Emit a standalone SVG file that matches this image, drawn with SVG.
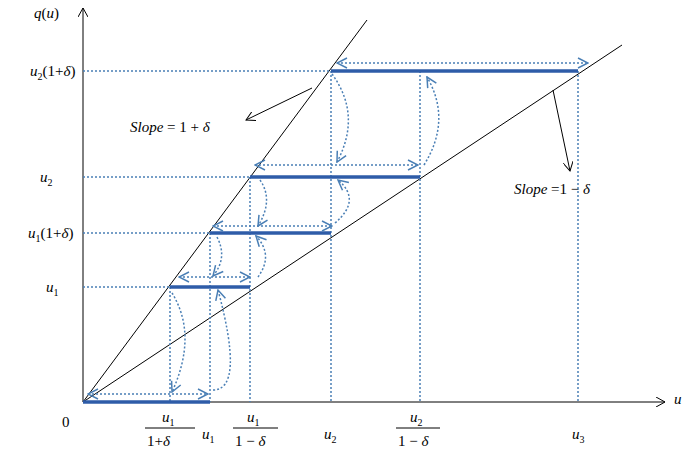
<svg xmlns="http://www.w3.org/2000/svg" width="685" height="457" viewBox="0 0 685 457">
<defs>
<style>
.ax{stroke:#000;stroke-width:1;fill:none}
.dot{stroke:#4a7fb5;stroke-width:1.5;stroke-dasharray:2 2;fill:none}
.bar{stroke:#2e5ca8;stroke-width:3.5}
.da{stroke:#4a7fb5;stroke-width:1.5;stroke-dasharray:2 2;fill:none;marker-start:url(#ob);marker-end:url(#ob)}
.cv{stroke:#4a7fb5;stroke-width:1.5;stroke-dasharray:2 2;fill:none;marker-end:url(#ob)}
text{font-family:"Liberation Serif",serif;font-style:italic;font-size:15px}
.n{font-style:normal}
</style>
<marker id="ob" viewBox="0 0 12 12" refX="11" refY="6" markerWidth="12" markerHeight="12" orient="auto-start-reverse" markerUnits="userSpaceOnUse"><path d="M1,1 L11,6 L1,11" fill="none" stroke="#4a7fb5" stroke-width="1.5"/></marker>
<marker id="ak" viewBox="0 0 10 10" refX="9" refY="5" markerWidth="10" markerHeight="10" orient="auto" markerUnits="userSpaceOnUse"><path d="M0,0 L9,5 L0,10" fill="none" stroke="#000"/></marker>
</defs>
<g id="axes">
<line class="ax" x1="83" y1="402" x2="83" y2="8" marker-end="url(#ak)"/>
<line class="ax" x1="83" y1="402" x2="665" y2="402" marker-end="url(#ak)"/>
<line class="ax" x1="83" y1="402" x2="367" y2="20"/>
<line class="ax" x1="83" y1="402" x2="622" y2="45"/>
</g>
<g id="guides">
<line class="dot" x1="83" y1="71" x2="331" y2="71"/>
<line class="dot" x1="83" y1="177" x2="250" y2="177"/>
<line class="dot" x1="83" y1="233" x2="210" y2="233"/>
<line class="dot" x1="83" y1="287" x2="170" y2="287"/>
<line class="dot" x1="170" y1="287" x2="170" y2="402"/>
<line class="dot" x1="210" y1="233" x2="210" y2="402"/>
<line class="dot" x1="250" y1="177" x2="250" y2="402"/>
<line class="dot" x1="331" y1="71" x2="331" y2="402"/>
<line class="dot" x1="420" y1="71" x2="420" y2="402"/>
<line class="dot" x1="578" y1="71" x2="578" y2="402"/>
</g>
<g id="bars">
<line class="bar" x1="331" y1="71" x2="578" y2="71"/>
<line class="bar" x1="250" y1="177" x2="420" y2="177"/>
<line class="bar" x1="210" y1="233" x2="331" y2="233"/>
<line class="bar" x1="170" y1="287" x2="250" y2="287"/>
<line class="bar" x1="83" y1="402" x2="210" y2="402"/>
</g>
<g id="connectors">
<line class="da" x1="337" y1="63" x2="588" y2="63"/>
<line class="da" x1="255" y1="165" x2="418" y2="165"/>
<line class="da" x1="213" y1="226" x2="332" y2="226"/>
<line class="da" x1="179" y1="277" x2="250" y2="277"/>
<line class="da" x1="88" y1="394" x2="208" y2="394"/>
<path class="cv" d="M332,74 Q362,115 337,162"/>
<path class="cv" d="M424,165 Q452,120 427,77"/>
<path class="cv" d="M335,223 Q362,200 338,180"/>
<path class="cv" d="M260,180 Q274,200 258,226"/>
<path class="cv" d="M258,277 Q274,255 256,236"/>
<path class="cv" d="M217,237 Q228,258 213,276"/>
<path class="cv" d="M213,390 Q245,390 218,290"/>
<path class="cv" d="M172,293 Q198,335 172,392"/>
<line class="ax" x1="312" y1="88" x2="246" y2="120" marker-end="url(#ak)"/>
<line class="ax" x1="553" y1="90" x2="570" y2="171" marker-end="url(#ak)"/>
</g>
<g id="labels">
<text x="34" y="18">q<tspan class="n">(</tspan>u<tspan class="n">)</tspan></text>
<text x="674" y="404">u</text>
<text class="n" x="62" y="427">0</text>
<text x="130" y="132">Slope <tspan class="n">= 1 + </tspan>δ</text>
<text x="514" y="194">Slope <tspan class="n">=1 − </tspan>δ</text>
<text x="30" y="76">u<tspan class="n" font-size="10" dy="4">2</tspan><tspan class="n" dy="-4">(1+</tspan>δ<tspan class="n">)</tspan></text>
<text x="40" y="182">u<tspan class="n" font-size="10" dy="4">2</tspan></text>
<text x="28" y="238">u<tspan class="n" font-size="10" dy="4">1</tspan><tspan class="n" dy="-4">(1+</tspan>δ<tspan class="n">)</tspan></text>
<text x="46" y="292">u<tspan class="n" font-size="10" dy="4">1</tspan></text>
<text x="162" y="422">u<tspan class="n" font-size="10" dy="4">1</tspan></text>
<line class="ax" x1="145" y1="428" x2="195" y2="428"/>
<text x="147" y="446"><tspan class="n">1+</tspan>δ</text>
<text x="202" y="439">u<tspan class="n" font-size="10" dy="4">1</tspan></text>
<text x="247" y="422">u<tspan class="n" font-size="10" dy="4">1</tspan></text>
<line class="ax" x1="233" y1="428" x2="278" y2="428"/>
<text x="235" y="446"><tspan class="n">1 − </tspan>δ</text>
<text x="324" y="439">u<tspan class="n" font-size="10" dy="4">2</tspan></text>
<text x="410" y="422">u<tspan class="n" font-size="10" dy="4">2</tspan></text>
<line class="ax" x1="396" y1="428" x2="440" y2="428"/>
<text x="398" y="446"><tspan class="n">1 − </tspan>δ</text>
<text x="572" y="439">u<tspan class="n" font-size="10" dy="4">3</tspan></text>
</g>
</svg>
